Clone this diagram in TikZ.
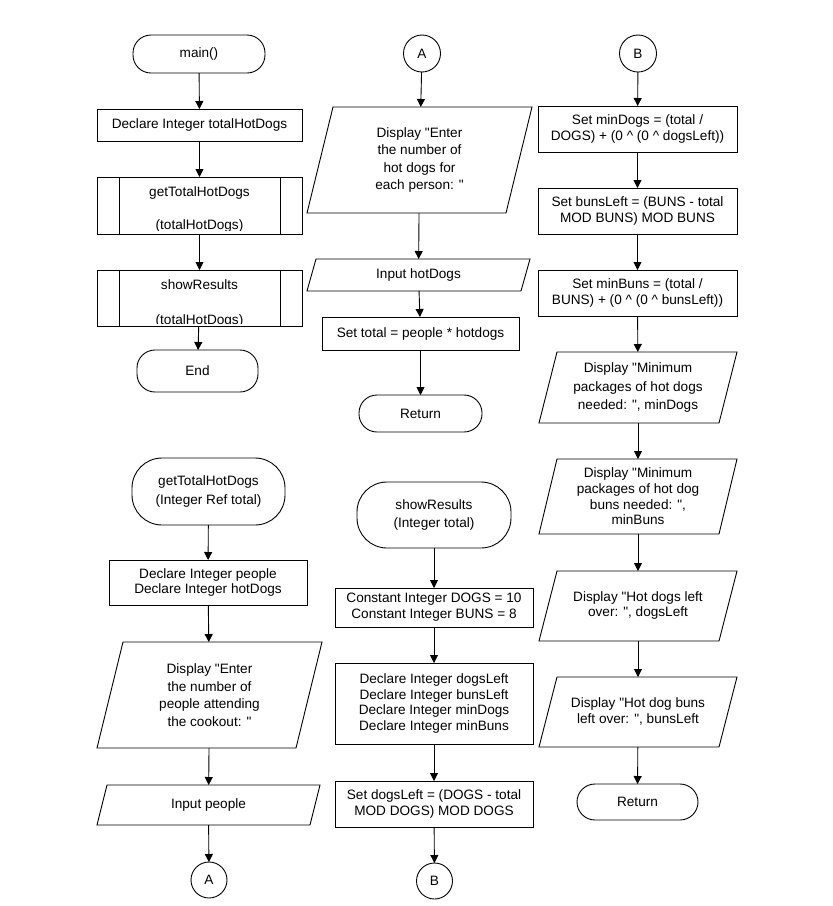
\documentclass[tikz,border=0pt]{standalone}
\usepackage{fontspec}
\setmainfont{Liberation Sans}[Ligatures=TeXOff]
\usetikzlibrary{arrows.meta,calc}
\newcommand\paraout[2]{\draw[shapeline] ($(#1.north west)+(#2,0)$) -- (#1.north east) -- ($(#1.south east)+(-#2,0)$) -- (#1.south west) -- cycle;}
\newcommand\predefout[2]{\draw[shapeline] ($(#1.north west)+(#2,0)$) -- ($(#1.south west)+(#2,0)$);
  \draw[shapeline] ($(#1.north east)+(-#2,0)$) -- ($(#1.south east)+(-#2,0)$);}
\begin{document}
\begin{tikzpicture}[x=1pt,y=-1pt,
  font=\fontsize{13.6pt}{15.7pt}\selectfont,
  every node/.style={inner sep=0pt, outer sep=0pt, align=center, text=black},
  shapeline/.style={line width=0.9pt, draw=black},
  procbox/.style={draw, shapeline, rectangle, minimum width=#1},
  procbox/.default=198pt,
  termbox/.style={draw, shapeline, rectangle, rounded corners=#1},
  termbox/.default=18pt,
  parabox/.style={rectangle, minimum width=#1},
  conn/.style={draw, circle, shapeline, minimum size=37pt},
  arr/.style={line width=0.9pt, -{Triangle[length=8pt,width=8pt]}},
  tall/.style={font=\fontsize{13.6pt}{18.5pt}\selectfont},
  mid/.style={font=\fontsize{13.6pt}{17.5pt}\selectfont}
]
\useasboundingbox (0,0) rectangle (833,906);

% ---------- main ----------
\node[termbox, minimum width=132pt, minimum height=38pt] (main) at (199,54) {main()};
\node[procbox=205pt, minimum height=32pt] (decl) at (199.5,125) {Declare Integer totalHotDogs};
\node[procbox=205pt, minimum height=57pt] (gth) at (199.5,205.5) {};
\predefout{gth}{22}
\begin{scope}
  \clip (gth.north west) rectangle ($(gth.south east)+(0,-3.8)$);
  \node[anchor=base] (gthA) at (199.5,196) {getTotalHotDogs};
  \node[anchor=base] (gthB) at (199.5,229) {(totalHotDogs)};
\end{scope}
\node[procbox=205pt, minimum height=56pt] (sr) at (199.5,298) {};
\predefout{sr}{22}
\begin{scope}
  \clip (sr.north west) rectangle ($(sr.south east)+(0,-3)$);
  \node[anchor=base] (srA) at (199.5,289) {showResults};
  \node[anchor=base] (srB) at (199.5,324) {(totalHotDogs)};
\end{scope}
\node[termbox, minimum width=121pt, minimum height=42pt] (endn) at (197.5,371) {End};

\draw[arr] (main) -- (decl);
\draw[arr] (decl) -- (gth);
\draw[arr] (gth) -- (sr);
\draw[arr] (sr) -- (endn);

% ---------- A continuation ----------
\node[conn] (A1) at (422,53.5) {A};
\node[parabox=225pt, minimum height=106pt, mid] (disp1) at (419.5,160) {Display "Enter\\the number of\\hot dogs for\\each person: "};
\paraout{disp1}{26}
\node[parabox=223pt, minimum height=32pt] (inp1) at (418.5,275) {Input hotDogs};
\paraout{inp1}{9}
\node[procbox=197pt, minimum height=33pt] (settot) at (420.5,333.5) {Set total = people * hotdogs};
\node[termbox, minimum width=123pt, minimum height=37pt] (ret1) at (420.5,413.5) {Return};

\draw[arr] (A1) -- (disp1);
\draw[arr] (disp1) -- (inp1);
\draw[arr] (inp1) -- (settot);
\draw[arr] (settot) -- (ret1);

% ---------- B continuation ----------
\node[conn] (B1) at (638,53.5) {B};
\node[procbox=199pt, minimum height=46pt] (mind) at (637.5,129) {Set minDogs = (total /\\DOGS) + (0 \^{} (0 \^{} dogsLeft))};
\node[procbox=199pt, minimum height=46pt] (bunsl) at (637.5,211) {Set bunsLeft = (BUNS - total\\MOD BUNS) MOD BUNS};
\node[procbox=199pt, minimum height=46pt] (minb) at (637.5,293) {Set minBuns = (total /\\BUNS) + (0 \^{} (0 \^{} bunsLeft))};
\node[parabox=198pt, minimum height=71pt, tall] (d1) at (638,387.5) {Display "Minimum\\packages of hot dogs\\needed: ", minDogs};
\paraout{d1}{18}
\node[parabox=198pt, minimum height=75pt] (d2) at (638,496.5) {Display "Minimum\\packages of hot dog\\buns needed: ",\\minBuns};
\paraout{d2}{18}
\node[parabox=198pt, minimum height=70pt] (d3) at (638,606) {\raisebox{-3pt}{\begin{tabular}{@{}c@{}}Display "Hot dogs left\\over: ", dogsLeft\end{tabular}}};
\paraout{d3}{18}
\node[parabox=198pt, minimum height=70pt] (d4) at (638,712) {\raisebox{-3pt}{\begin{tabular}{@{}c@{}}Display "Hot dog buns\\left over: ", bunsLeft\end{tabular}}};
\paraout{d4}{18}
\node[termbox, minimum width=121pt, minimum height=36pt] (ret2) at (637.5,802) {Return};

\draw[arr] (B1) -- (mind);
\draw[arr] (mind) -- (bunsl);
\draw[arr] (bunsl) -- (minb);
\draw[arr] (minb) -- (d1);
\draw[arr] (d1) -- (d2);
\draw[arr] (d2) -- (d3);
\draw[arr] (d3) -- (d4);
\draw[arr] (d4) -- (ret2);

% ---------- getTotalHotDogs module ----------
\node[termbox=30pt, minimum width=153pt, minimum height=67pt, tall] (gth2) at (208.5,491.5) {getTotalHotDogs\\(Integer Ref total)};
\node[procbox=198pt, minimum height=45pt] (declpp) at (208,582.5) {Declare Integer people\\Declare Integer hotDogs};
\node[parabox=225pt, minimum height=106pt, mid] (disp2) at (209.5,695) {Display "Enter\\the number of\\people attending\\the cookout: "};
\paraout{disp2}{26}
\node[parabox=223pt, minimum height=40pt] (inp2) at (208.5,805) {Input people};
\paraout{inp2}{10}
\node[conn, minimum size=36pt] (A2) at (209,880) {A};

\draw[arr] (gth2) -- (declpp);
\draw[arr] (declpp) -- (disp2);
\draw[arr] (disp2) -- (inp2);
\draw[arr] (inp2) -- (A2);

% ---------- showResults module ----------
\node[termbox=30pt, minimum width=154pt, minimum height=66pt, tall] (sr2) at (434,515) {showResults\\(Integer total)};
\node[procbox=198pt, minimum height=39pt] (consts) at (434,607.5) {Constant Integer DOGS = 10\\Constant Integer BUNS = 8};
\node[procbox=198pt, minimum height=81pt] (decl4) at (434,703.5) {Declare Integer dogsLeft\\Declare Integer bunsLeft\\Declare Integer minDogs\\Declare Integer minBuns};
\node[procbox=198pt, minimum height=46pt] (setdl) at (434,804) {Set dogsLeft = (DOGS - total\\MOD DOGS) MOD DOGS};
\node[conn, minimum size=36pt] (B2) at (434.5,881) {B};

\draw[arr] (sr2) -- (consts);
\draw[arr] (consts) -- (decl4);
\draw[arr] (decl4) -- (setdl);
\draw[arr] (setdl) -- (B2);
\end{tikzpicture}
\end{document}
